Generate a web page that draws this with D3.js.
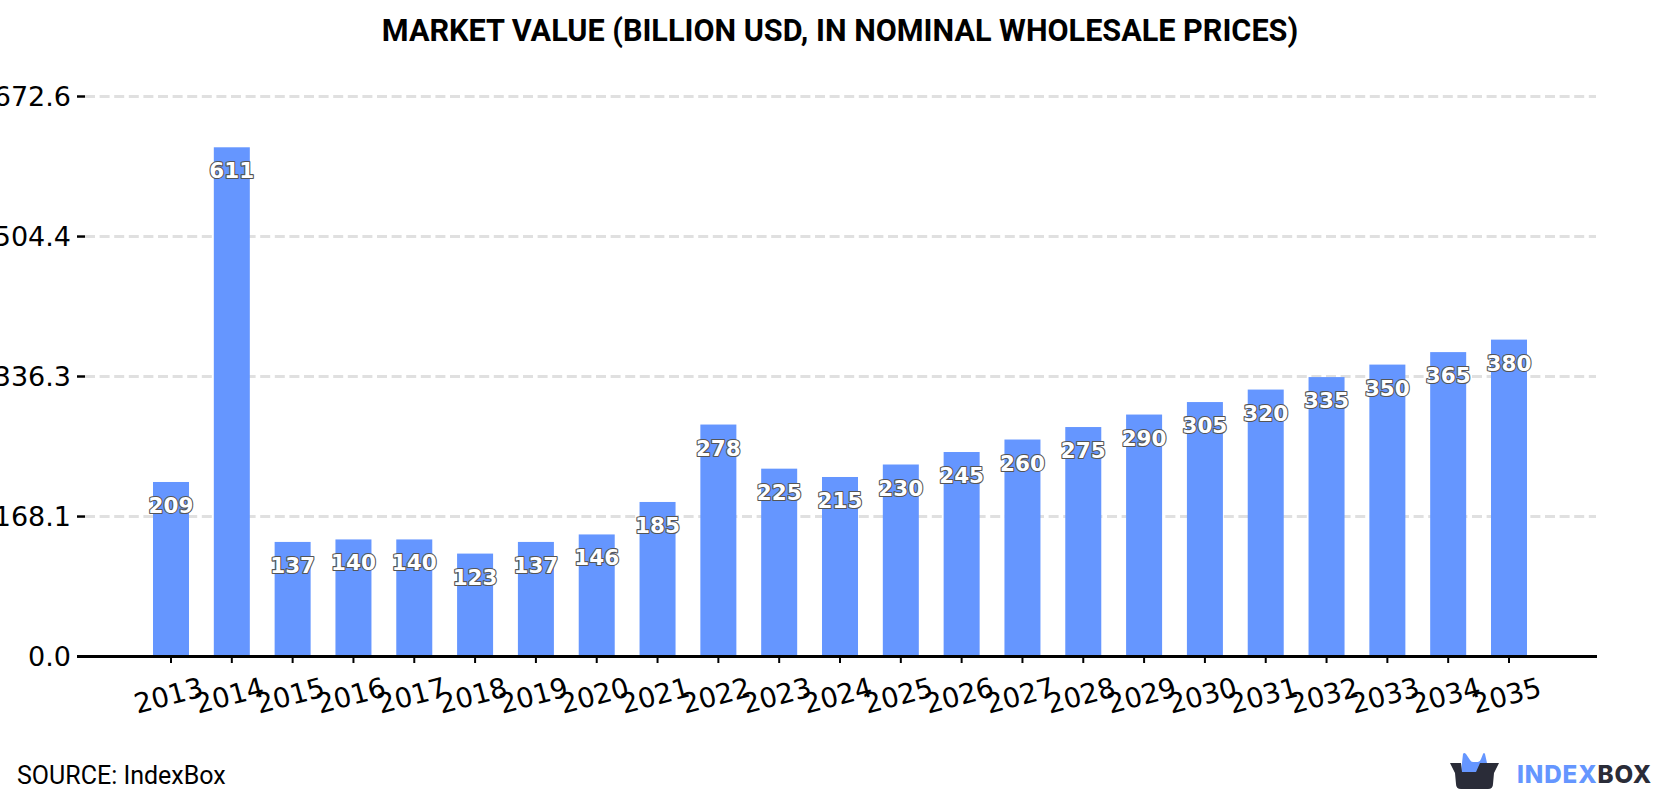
<!DOCTYPE html>
<html>
<head>
<meta charset="utf-8">
<script src="https://cdn.jsdelivr.net/npm/d3@7/dist/d3.min.js"></script>
<style>
html,body{margin:0;padding:0;background:#fff;overflow:hidden}
svg{display:block}
</style>
</head>
<body>
<svg id="chart" width="1680" height="800"></svg>
<script>
const years = ["2013","2014","2015","2016","2017","2018","2019","2020","2021","2022","2023","2024","2025","2026","2027","2028","2029","2030","2031","2032","2033","2034","2035"];
const values = [209,611,137,140,140,123,137,146,185,278,225,215,230,245,260,275,290,305,320,335,350,365,380];
const yTicks = [0,168.1,336.3,504.4,672.6];

const BLUE = "#6596ff", DARK = "#2a2c38";
const svg = d3.select("#chart");
const plot = {left:85, right:1597, top:96, bottom:656};

const x = d3.scaleBand().domain(years).range([plot.left, plot.right - 2]).paddingInner(0.408).paddingOuter(1.118);
const y = d3.scaleLinear().domain([0,672.6]).range([plot.bottom, plot.top]);

// Dashed horizontal gridlines
svg.append("g").selectAll("line").data(yTicks.slice(1)).join("line")
  .attr("x1",plot.left).attr("x2",plot.right - 1)
  .attr("y1",d=>y(d)+0.5).attr("y2",d=>y(d)+0.5)
  .attr("stroke","#e0e0e0").attr("stroke-width",3).attr("stroke-dasharray","10,4.6");

// Bars
svg.append("g").selectAll("rect").data(values).join("rect")
  .attr("x",(d,i)=>x(years[i])).attr("width",x.bandwidth())
  .attr("y",d=>y(d)).attr("height",d=>y(0)-y(d))
  .attr("fill",BLUE);

// Value axis
const gy = svg.append("g").attr("transform",`translate(${plot.left},0)`)
  .call(d3.axisLeft(y).tickValues(yTicks).tickFormat(d3.format(".1f")).tickSize(8).tickPadding(6));
gy.select(".domain").remove();
gy.selectAll("line").attr("stroke","#000").attr("stroke-width",2.5);
gy.selectAll("text").attr("font-family","'DejaVu Sans'").attr("font-size",27).attr("fill","#000").attr("y",1);

// Year axis
const gx = svg.append("g").attr("transform",`translate(0,${plot.bottom})`)
  .call(d3.axisBottom(x).tickSize(7).tickSizeOuter(0).tickPadding(6));
gx.select(".domain").attr("stroke","#000").attr("stroke-width",3).attr("d",`M${plot.left-8},0.5H${plot.right}`);
gx.selectAll("line").attr("stroke","#000").attr("stroke-width",2);
gx.selectAll("text")
  .attr("font-family","'DejaVu Sans'").attr("font-size",27.5).attr("fill","#000")
  .attr("text-anchor","middle").attr("dy",null)
  .attr("transform",d=>`translate(-2,41) rotate(-15)`).attr("y",0).attr("x",0)
  .attr("dominant-baseline","middle");

// Value labels inside the bars
svg.append("g").selectAll("text").data(values).join("text")
  .attr("x",(d,i)=>x(years[i])+x.bandwidth()/2)
  .attr("y",d=>y(d)+31)
  .attr("text-anchor","middle")
  .attr("font-family","'DejaVu Sans'").attr("font-weight","bold").attr("font-size",21.5)
  .attr("fill","#fff").attr("stroke","#555").attr("stroke-width",2.2)
  .attr("paint-order","stroke").attr("stroke-linejoin","round")
  .text(d=>d);

// Title and source line
svg.append("text").attr("x",840).attr("y",41).attr("text-anchor","middle")
  .attr("font-family","Roboto").attr("font-weight","bold").attr("font-size",30.6).attr("fill","#000")
  .text("MARKET VALUE (BILLION USD, IN NOMINAL WHOLESALE PRICES)");
svg.append("text").attr("x",17).attr("y",784)
  .attr("font-family","Roboto").attr("font-size",25).attr("fill","#000")
  .text("SOURCE: IndexBox");

// Brand mark: a box with a blue crown, followed by the wordmark
const logo = svg.append("g");
logo.append("path").attr("fill",BLUE)
  .attr("d","M1461,772 L1463,754 Q1464,752 1466,754 L1470,760 Q1471,762 1473,762 L1478,762 Q1480,762 1481,759 L1483,754 Q1484,752 1485,754 L1487,763 L1487,772 Z");
logo.append("path").attr("fill",DARK)
  .attr("d","M1450,763 L1461,763 L1462,772 L1476,772 L1480,763 L1499,763 L1494,773 L1493,784 Q1493,789 1488,789 L1461,789 Q1456,789 1456,784 L1455,773 Z");
const word = logo.append("text").attr("x",1517).attr("y",783)
  .attr("font-family","Inter").attr("font-weight","800").attr("font-size",24.2).attr("letter-spacing",0.9);
word.append("tspan").attr("fill",BLUE).text("INDEX");
word.append("tspan").attr("fill",DARK).text("BOX");
</script>
</body>
</html>
